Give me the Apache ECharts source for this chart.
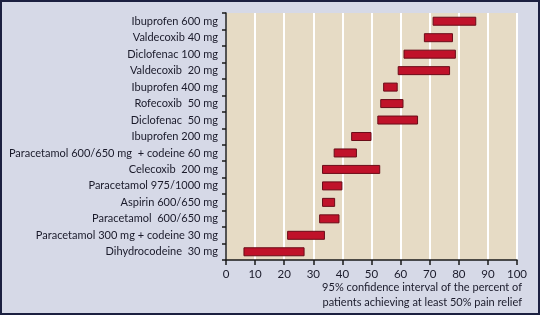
<!DOCTYPE html>
<html><head><meta charset="utf-8">
<script src="https://cdn.jsdelivr.net/npm/echarts@6/dist/echarts.min.js"></script>
<style>html,body{margin:0;padding:0;background:#d6d9e7}#c{width:540px;height:315px}</style>
</head><body><div id="c"></div>
<script>
const categories = ["Ibuprofen 600 mg","Valdecoxib 40 mg","Diclofenac 100 mg","Valdecoxib  20 mg","Ibuprofen 400 mg","Rofecoxib  50 mg","Diclofenac  50 mg","Ibuprofen 200 mg","Paracetamol 600/650 mg  + codeine 60 mg","Celecoxib  200 mg","Paracetamol 975/1000 mg","Aspirin 600/650 mg","Paracetamol  600/650 mg","Paracetamol 300 mg + codeine 30 mg","Dihydrocodeine  30 mg"];
const lowerCI = [71,68,61,59,54,53,52,43,37,33,33,33,32,21,6];
const upperCI = [86,78,79,77,59,61,66,50,45,53,40,37.5,39,34,27];
const xTicks = [0,10,20,30,40,50,60,70,80,90,100];
const axisTitle = "95% confidence interval of the percent of\npatients achieving at least 50% pain relief";

const span = upperCI.map((u,i)=>u-lowerCI[i]);
const chart = echarts.init(document.getElementById('c'));
const font = 'Lato, "Noto Sans", sans-serif';
chart.setOption({
  animation:false,
  backgroundColor:'#d6d9e7',
  grid:{left:226,right:23,top:13,bottom:55,containLabel:false,backgroundColor:'#e6dbc5',show:true,borderWidth:0},
  xAxis:{type:'value',min:0,max:100,interval:10,
    axisLine:{show:true,lineStyle:{color:'#1a1a1a',width:1.5}},
    axisTick:{show:true,length:5,lineStyle:{color:'#1a1a1a',width:1.5}},
    axisLabel:{color:'#1a1a2a',fontSize:11.5,fontFamily:font,margin:8,formatter:v=>xTicks.includes(v)?String(v):''},
    splitLine:{show:true,lineStyle:{color:'#ffffff',width:2}}},
  yAxis:{type:'category',data:categories,inverse:true,
    axisLine:{show:true,lineStyle:{color:'#1a1a1a',width:1.5}},
    axisTick:{show:true,length:4,lineStyle:{color:'#1a1a1a',width:1.5}},
    axisLabel:{color:'#1a1a2a',fontSize:11,fontFamily:font,margin:8},
    splitLine:{show:false}},
  series:[
    {type:'bar',stack:'ci',data:lowerCI,itemStyle:{color:'transparent'},barWidth:9,silent:true},
    {type:'bar',stack:'ci',data:span,barWidth:9,itemStyle:{color:'#c0122a',borderColor:'#6a0c18',borderWidth:1}}
  ],
  graphic:[
    {type:'text',right:18,top:280,style:{text:axisTitle,fill:'#1a1a2a',font:'11px '+font,textAlign:'right',lineHeight:15}},
    {type:'rect',shape:{x:1,y:1,width:538,height:313},style:{fill:'none',stroke:'#1c2040',lineWidth:2},z:100}
  ]
});
</script></body></html>
